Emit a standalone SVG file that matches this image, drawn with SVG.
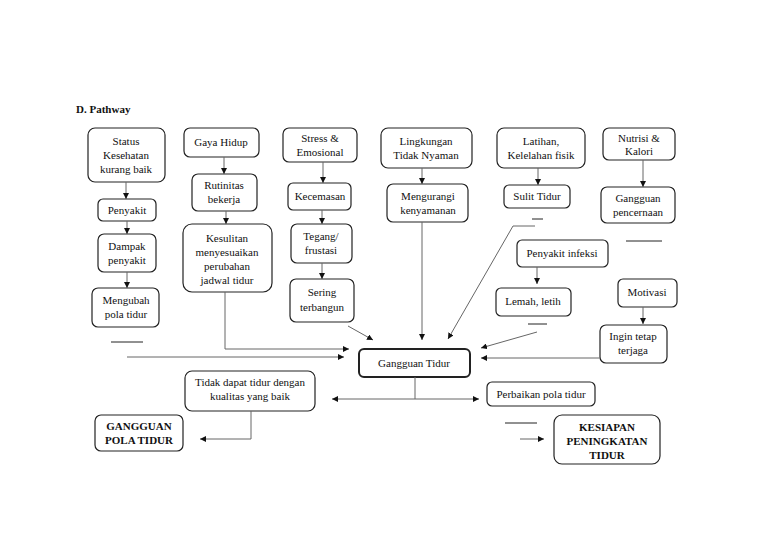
<svg xmlns="http://www.w3.org/2000/svg" width="768" height="543" viewBox="0 0 768 543" font-family="'Liberation Serif', 'Times New Roman', serif">
<defs>
<marker id="ah" viewBox="0 0 10 10" refX="10" refY="5" markerWidth="6" markerHeight="6" orient="auto" markerUnits="userSpaceOnUse">
<path d="M0,0 L10,5 L0,10 z" fill="#111"/>
</marker>
</defs>
<style>
.b rect{fill:#fff;stroke:#222;stroke-width:1.2}
text{font-family:'Liberation Serif','Times New Roman',serif;font-size:11px;fill:#111;text-anchor:middle}
.bold{font-weight:bold;font-size:11px}
.c line,.c polyline{stroke:#666;stroke-width:1;fill:none}
.c .a{marker-end:url(#ah)}
.u{stroke:#222;stroke-width:1}
</style>
<rect width="768" height="543" fill="#fff"/>
<text x="76" y="113" class="bold" style="text-anchor:start">D. Pathway</text>

<g class="b">
<g id="n-status"><rect x="88" y="128" width="77" height="54" rx="7"/><text x="126" y="145">Status</text><text x="126" y="159">Kesehatan</text><text x="126" y="173">kurang baik</text></g>
<g id="n-penyakit"><rect x="98" y="199" width="58" height="22" rx="5"/><text x="127" y="214">Penyakit</text></g>
<g id="n-dampak"><rect x="98" y="234" width="58" height="38" rx="6"/><text x="127" y="250">Dampak</text><text x="127" y="264">penyakit</text></g>
<g id="n-mengubah"><rect x="92" y="288" width="67" height="39" rx="6"/><text x="126" y="304">Mengubah</text><text x="126" y="318">pola tidur</text></g>
<g id="n-gaya"><rect x="184" y="128" width="75" height="29" rx="6"/><text x="221" y="146">Gaya Hidup</text></g>
<g id="n-rutinitas"><rect x="192" y="174" width="65" height="37" rx="6"/><text x="224" y="189">Rutinitas</text><text x="224" y="203">bekerja</text></g>
<g id="n-kesulitan"><rect x="183" y="224" width="89" height="68" rx="9"/><text x="227" y="242">Kesulitan</text><text x="227" y="256">menyesuaikan</text><text x="227" y="270">perubahan</text><text x="227" y="284">jadwal tidur</text></g>
<g id="n-stress"><rect x="283" y="128" width="74" height="34" rx="6"/><text x="320" y="142">Stress &amp;</text><text x="320" y="156">Emosional</text></g>
<g id="n-kecemasan"><rect x="288" y="183" width="63" height="27" rx="5"/><text x="320" y="200">Kecemasan</text></g>
<g id="n-tegang"><rect x="291" y="224" width="61" height="39" rx="6"/><text x="321" y="240">Tegang/</text><text x="321" y="254">frustasi</text></g>
<g id="n-sering"><rect x="290" y="279" width="64" height="43" rx="6"/><text x="322" y="296">Sering</text><text x="322" y="311">terbangun</text></g>
<g id="n-lingkungan"><rect x="381" y="128" width="91" height="40" rx="7"/><text x="426" y="145">Lingkungan</text><text x="426" y="159">Tidak Nyaman</text></g>
<g id="n-mengurangi"><rect x="387" y="184" width="81" height="38" rx="6"/><text x="428" y="200">Mengurangi</text><text x="428" y="214">kenyamanan</text></g>
<g id="n-latihan"><rect x="497" y="128" width="88" height="40" rx="7"/><text x="541" y="145">Latihan,</text><text x="541" y="159">Kelelahan fisik</text></g>
<g id="n-sulit"><rect x="504" y="185" width="66" height="23" rx="5"/><text x="537" y="200">Sulit Tidur</text></g>
<g id="n-nutrisi"><rect x="603" y="128" width="72" height="32" rx="6"/><text x="639" y="142">Nutrisi &amp;</text><text x="639" y="155">Kalori</text></g>
<g id="n-pencernaan"><rect x="601" y="187" width="74" height="36" rx="6"/><text x="638" y="202">Gangguan</text><text x="638" y="216">pencernaan</text></g>
<g id="n-infeksi"><rect x="517" y="240" width="91" height="27" rx="5"/><text x="562" y="257">Penyakit infeksi</text></g>
<g id="n-lemah"><rect x="496" y="288" width="75" height="28" rx="5"/><text x="533" y="305">Lemah, letih</text></g>
<g id="n-motivasi"><rect x="618" y="279" width="59" height="28" rx="5"/><text x="647" y="296">Motivasi</text></g>
<g id="n-ingin"><rect x="600" y="325" width="67" height="38" rx="6"/><text x="633" y="340">Ingin tetap</text><text x="633" y="354">terjaga</text></g>
<g id="n-gangguan"><rect x="359" y="349" width="111" height="28" rx="5" style="stroke-width:2"/><text x="414" y="367">Gangguan Tidur</text></g>
<g id="n-tidak"><rect x="185" y="371" width="130" height="40" rx="7"/><text x="250" y="386">Tidak dapat tidur dengan</text><text x="250" y="400">kualitas yang baik</text></g>
<g id="n-perbaikan"><rect x="487" y="382" width="108" height="24" rx="5"/><text x="541" y="398">Perbaikan pola tidur</text></g>
<g id="n-gpt"><rect x="95" y="415" width="88" height="36" rx="6"/><text x="139" y="430" class="bold">GANGGUAN</text><text x="139" y="444" class="bold">POLA TIDUR</text></g>
<g id="n-kesiapan"><rect x="554" y="415" width="106" height="49" rx="8"/><text x="607" y="431" class="bold">KESIAPAN</text><text x="607" y="445" class="bold">PENINGKATAN</text><text x="607" y="459" class="bold">TIDUR</text></g>
</g>

<g class="c">
<line class="a" x1="126" y1="182" x2="126" y2="199"/>
<line class="a" x1="127" y1="221" x2="127" y2="234"/>
<line class="a" x1="127" y1="272" x2="127" y2="288"/>
<line class="a" x1="224" y1="157" x2="224" y2="174"/>
<line class="a" x1="226" y1="211" x2="226" y2="224"/>
<line class="a" x1="323" y1="162" x2="323" y2="183"/>
<line class="a" x1="322" y1="210" x2="322" y2="224"/>
<line class="a" x1="322" y1="263" x2="322" y2="279"/>
<line class="a" x1="422" y1="168" x2="422" y2="184"/>
<line class="a" x1="538" y1="168" x2="538" y2="185"/>
<line class="a" x1="643" y1="160" x2="643" y2="187"/>
<line class="a" x1="537" y1="267" x2="537" y2="284"/>
<line class="a" x1="643" y1="307" x2="643" y2="324"/>
<polyline class="a" points="225,292 225,349 349,349"/>
<line class="a" x1="127" y1="357" x2="344" y2="357"/>
<line class="a" x1="348" y1="326" x2="373" y2="340"/>
<line class="a" x1="422" y1="222" x2="422" y2="340"/>
<polyline class="a" points="535,226 513,226 448,339"/>
<line class="a" x1="537" y1="332" x2="481" y2="348"/>
<line class="a" x1="600" y1="358" x2="481" y2="358"/>
<line x1="415" y1="377" x2="415" y2="399"/>
<line class="a" x1="415" y1="399" x2="332" y2="399"/>
<line class="a" x1="415" y1="399" x2="479" y2="399"/>
<polyline class="a" points="251,411 251,439 200,439"/>
<line class="a" x1="520" y1="439" x2="544" y2="439"/>
</g>
<g id="rules">
<line class="u" x1="111" y1="342" x2="143" y2="342"/>
<line class="u" x1="532" y1="219" x2="543" y2="219"/>
<line class="u" x1="626" y1="241" x2="662" y2="241"/>
<line class="u" x1="528" y1="324" x2="547" y2="324"/>
<line class="u" x1="505" y1="423" x2="537" y2="423"/>
</g>
</svg>
